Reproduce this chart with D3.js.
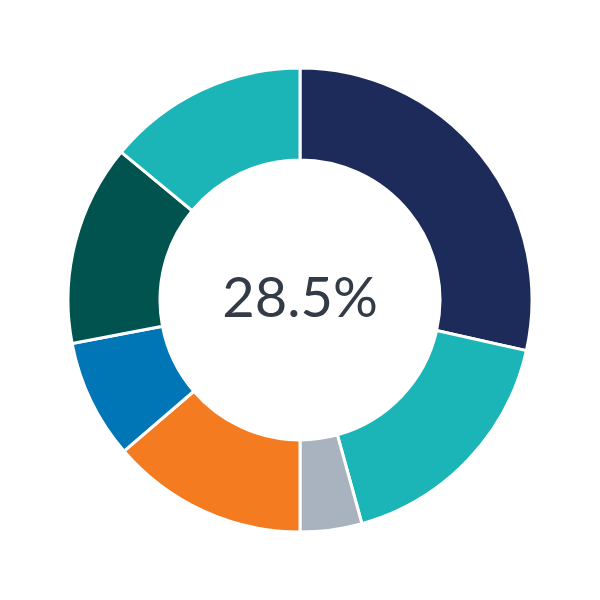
<!DOCTYPE html>
<html>
<head>
<meta charset="utf-8">
<script src="https://cdn.jsdelivr.net/npm/d3@7"></script>
<style>
  body { margin: 0; background: #fff; }
</style>
</head>
<body>
<div id="chart"></div>
<script>
// slice values (percent), clockwise from 12 o'clock
var categories = ["A", "B", "C", "D", "E", "F", "G"];
var values = [28.5, 17.2, 4.3, 13.7, 8.3, 14.0, 14.0];
var colors = ["#1c2b5a", "#1bb5b8", "#a9b3c0", "#f47b20", "#0076b6", "#00534f", "#1bb5b8"];
var centerLabel = "28.5%";

var svgWidth = 600;
var svgHeight = 600;
var outerR = 232;
var innerR = 140;

var svg = d3.select("#chart").append("svg")
    .attr("width", svgWidth)
    .attr("height", svgHeight);

var g = svg.append("g")
    .attr("transform", `translate(${svgWidth / 2}, ${svgHeight / 2})`);

var data = categories.map(function(c, i) {
    return { name: c, value: values[i], color: colors[i] };
});

var pie = d3.pie().sort(null).value(d => d.value);
var arc = d3.arc().innerRadius(innerR).outerRadius(outerR);

// draw slices
g.selectAll("path")
    .data(pie(data))
    .enter()
    .append("path")
    .attr("d", arc)
    .attr("fill", d => d.data.color)
    .attr("stroke", "#fff")
    .attr("stroke-width", 3)
    .attr("stroke-linejoin", "miter");

// center text
g.append("text")
    .attr("text-anchor", "middle")
    .attr("dy", "0.35em")
    .attr("y", -3)
    .style("font-family", "Lato, sans-serif")
    .style("font-weight", 400)
    .style("font-size", "56px")
    .attr("fill", "#333b47")
    .text(centerLabel);
</script>
</body>
</html>
